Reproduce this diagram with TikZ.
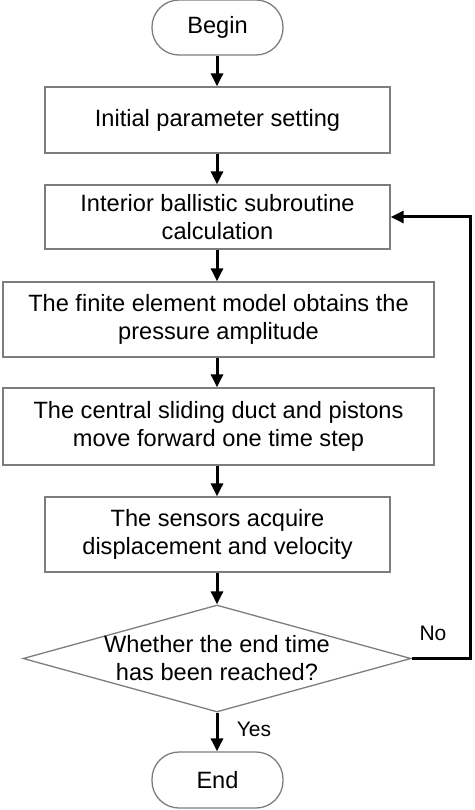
\documentclass[tikz,border=0pt]{standalone}
\usepackage{fontspec}
\setmainfont{Liberation Sans}
\usetikzlibrary{shapes.geometric,arrows.meta}
\definecolor{boxgray}{RGB}{125,125,125}
\begin{document}
\begin{tikzpicture}[x=1pt,y=-1pt,
  every node/.style={font=\fontsize{23.6}{28}\selectfont, align=center},
  procbox/.style={draw=boxgray, line width=1.3pt, rectangle, inner sep=0pt},
  termbox/.style={draw=boxgray, line width=1.3pt, rectangle, rounded corners=27pt, inner sep=0pt, minimum width=131pt},
  flow/.style={line width=3pt, -{Triangle[length=13pt,width=12pt]}},
  lbl/.style={font=\fontsize{21}{24}\selectfont}]
\useasboundingbox (0,0) rectangle (474,810);
\node[termbox, minimum height=55pt] (begin) at (217.5,27.5) {Begin};
\node[procbox, minimum width=345pt, minimum height=66pt] (init) at (217.5,120) {Initial parameter setting};
\node[procbox, minimum width=345pt, minimum height=64pt] (ballistic) at (217.5,217) {Interior ballistic subroutine\\calculation};
\node[procbox, minimum width=431pt, minimum height=75pt] (fem) at (218.5,319.5) {The finite element model obtains the\\pressure amplitude};
\node[procbox, minimum width=431pt, minimum height=77pt] (move) at (218.5,426.5) {The central sliding duct and pistons\\move forward one time step};
\node[procbox, minimum width=345pt, minimum height=75pt] (sensors) at (217.5,534.5) {The sensors acquire\\displacement and velocity};
\node[draw=boxgray, line width=1.3pt, diamond, inner sep=0pt, minimum width=388pt, minimum height=107pt] (dec) at (217,658.5) {};
\node (dectext) at (217,658.5) {Whether the end time\\has been reached?};
\node[termbox, minimum height=56pt] (end) at (217.5,780) {End};
\draw[flow] (begin.south -| 217,0) -- (init.north -| 217,0);
\draw[flow] (init.south -| 217,0) -- (ballistic.north -| 217,0);
\draw[flow] (ballistic.south -| 217,0) -- (fem.north -| 217,0);
\draw[flow] (fem.south -| 217,0) -- (move.north -| 217,0);
\draw[flow] (move.south -| 217,0) -- (sensors.north -| 217,0);
\draw[flow] (sensors.south -| 217,0) -- (dec.north);
\draw[flow] (dec.south) -- (end.north -| 217,0);
\coordinate (loop) at (470.5,658.5);
\draw[flow] (dec.east) -- (loop) |- (ballistic.east);
\node[lbl] (no) at (433,633) {No};
\node[lbl] (yes) at (254,729) {Yes};
\end{tikzpicture}
\end{document}
